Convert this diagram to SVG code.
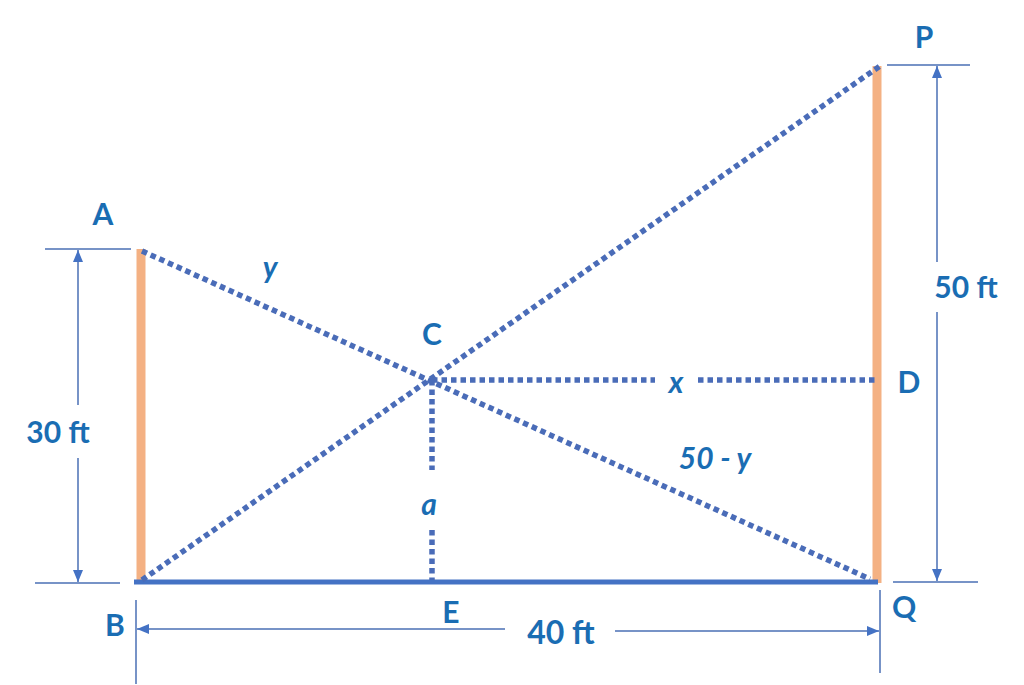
<svg xmlns="http://www.w3.org/2000/svg" width="1024" height="685" viewBox="0 0 1024 685">
<defs>
<marker id="ah" viewBox="0 0 12 10" refX="12" refY="5" markerWidth="12" markerHeight="10" markerUnits="userSpaceOnUse" orient="auto">
<path d="M0,0 L12,5 L0,10 Z" fill="#4472c4"/>
</marker>
<style>
.lbl{font-family:Lato,"Open Sans","Liberation Sans",sans-serif;font-weight:bold;fill:#1a6db3;font-size:30px;text-anchor:middle}
.it{font-style:italic}
.dot{stroke:#4a6cb8;stroke-width:5.5;stroke-dasharray:5.5 4;fill:none}
.dim{stroke:#4a6fb5;stroke-width:1.5;fill:none}
.post{stroke:#f4b183;stroke-width:9}
</style>
</defs>
<rect width="1024" height="685" fill="#fff"/>
<g id="posts">
<line class="post" x1="141" y1="249" x2="141" y2="581"/>
<line class="post" x1="877" y1="66" x2="877" y2="583"/>
</g>
<g id="ground">
<line x1="134" y1="582" x2="878" y2="582" stroke="#4472c4" stroke-width="5"/>
</g>
<g id="connectors">
<line class="dot" x1="142" y1="251" x2="870" y2="579"/>
<line class="dot" x1="142" y1="580" x2="880" y2="66"/>
<line class="dot" x1="432" y1="380" x2="655" y2="380"/>
<line class="dot" x1="698" y1="380" x2="876" y2="380"/>
<line class="dot" x1="432" y1="380" x2="432" y2="470"/>
<line class="dot" x1="432" y1="530" x2="432" y2="580"/>
</g>
<g id="dimensions">
<line class="dim" x1="45" y1="249" x2="131" y2="249"/>
<line class="dim" x1="35" y1="583" x2="120" y2="583"/>
<line class="dim" x1="78" y1="405" x2="78" y2="250" marker-end="url(#ah)"/>
<line class="dim" x1="78" y1="458" x2="78" y2="582" marker-end="url(#ah)"/>
<line class="dim" x1="887" y1="65" x2="970" y2="65"/>
<line class="dim" x1="893" y1="582" x2="978" y2="582"/>
<line class="dim" x1="937" y1="262" x2="937" y2="66" marker-end="url(#ah)"/>
<line class="dim" x1="937" y1="312" x2="937" y2="581" marker-end="url(#ah)"/>
<line class="dim" x1="136" y1="600" x2="136" y2="684"/>
<line class="dim" x1="880" y1="590" x2="880" y2="673"/>
<line class="dim" x1="505" y1="629" x2="137" y2="629" marker-end="url(#ah)"/>
<line class="dim" x1="615" y1="631" x2="879" y2="631" marker-end="url(#ah)"/>
</g>
<g id="labels">
<text class="lbl" x="103" y="225">A</text>
<text class="lbl" x="115" y="636">B</text>
<text class="lbl" x="432" y="345">C</text>
<text class="lbl" x="909" y="393">D</text>
<text class="lbl" x="451" y="623">E</text>
<text class="lbl" x="924" y="48">P</text>
<text class="lbl" x="904" y="618">Q</text>
<text class="lbl it" x="270" y="278">y</text>
<text class="lbl it" x="676" y="393">x</text>
<text class="lbl it" x="429" y="515">a</text>
<text class="lbl it" x="715" y="469">50 - y</text>
<text class="lbl" x="58" y="443">30 ft</text>
<text class="lbl" x="966" y="298">50 ft</text>
<text class="lbl" x="561" y="644" style="font-size:32px">40 ft</text>
</g>
</svg>
